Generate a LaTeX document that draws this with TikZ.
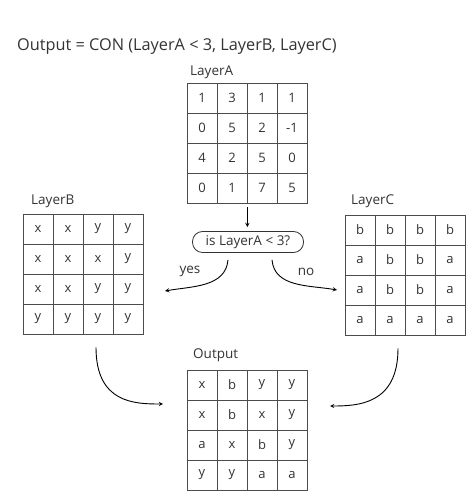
\documentclass[tikz,border=0pt]{standalone}
\usepackage{fontspec}
\setmainfont{Open Sans}
\usetikzlibrary{calc, shapes, arrows}

\begin{document}
\begin{tikzpicture}[x=1pt,y=1pt]
\tikzstyle{cell}=[draw=black!70,line width=0.8pt,minimum size=30pt,inner sep=0pt,text=black!80,font=\fontsize{13}{15}\selectfont]
\tikzstyle{layername}=[anchor=west,inner sep=0pt,text=black!80,font=\fontsize{13.5}{15}\selectfont]
\tikzstyle{decision}=[draw=black!80,line width=0.8pt,rounded corners=10pt,minimum width=111pt,minimum height=21pt,inner sep=0pt,text=black!80,font=\fontsize{13.5}{15}\selectfont]
\tikzstyle{flow}=[->,>=stealth,line width=0.9pt]
\useasboundingbox (0,0) rectangle (474,494);

\node[anchor=west,inner sep=0pt,text=black!80,font=\fontsize{16.3}{19}\selectfont] (formula) at (17,447) {Output = CON (LayerA < 3, LayerB, LayerC)};

% LayerA
\node[layername] (nameA) at (190,422) {LayerA};
\foreach \row [count=\i] in {{1,3,1,1},{0,5,2,-1},{4,2,5,0},{0,1,7,5}}
  \foreach \v [count=\j] in \row
    \node[cell] (A-\i-\j) at (172+30*\j,426-30*\i) {\v};

% LayerB
\node[layername] (nameB) at (31,293) {LayerB};
\foreach \row [count=\i] in {{x,x,y,y},{x,x,x,y},{x,x,y,y},{y,y,y,y}}
  \foreach \v [count=\j] in \row
    \node[cell] (B-\i-\j) at (8+30*\j,295-30*\i) {\v};

% LayerC
\node[layername] (nameC) at (351,293) {LayerC};
\foreach \row [count=\i] in {{b,b,b,b},{a,b,b,a},{a,b,b,a},{a,a,a,a}}
  \foreach \v [count=\j] in \row
    \node[cell] (C-\i-\j) at (330+30*\j,294-30*\i) {\v};

% Output
\node[layername] (nameO) at (193,139) {Output};
\foreach \row [count=\i] in {{x,b,y,y},{x,b,x,y},{a,x,b,y},{y,y,a,a}}
  \foreach \v [count=\j] in \row
    \node[cell] (O-\i-\j) at (172+30*\j,139-30*\i) {\v};

% condition
\node[decision] (test) at (248,252) {is LayerA < 3?};
\draw[flow,shorten <=4pt,shorten >=4pt] (A-4-2.south east) -- (A-4-2.south east |- test.north);

\coordinate (yesend) at (165,203);
\coordinate (noend) at (337,204);
\draw[flow] ([xshift=-20pt,yshift=-7pt]test.south) to[out=-95,in=10] (yesend);
\draw[flow] ([xshift=24pt,yshift=-7pt]test.south) to[out=-85,in=170] (noend);
\node[text=black!80,font=\fontsize{13.5}{15}\selectfont] (yes) at (190,223) {yes};
\node[text=black!80,font=\fontsize{13.5}{15}\selectfont] (no) at (306,222) {no};

\coordinate (inB) at (163,90);
\coordinate (inC) at (330,88);
\draw[flow] ([xshift=-2pt,yshift=-13pt]B-4-3.south) .. controls +(0,-56) and +(-28,0) .. (inB);
\draw[flow] ([xshift=8pt,yshift=-13pt]C-4-2.south) .. controls +(0,-56) and +(28,0) .. (inC);
\end{tikzpicture}
\end{document}
